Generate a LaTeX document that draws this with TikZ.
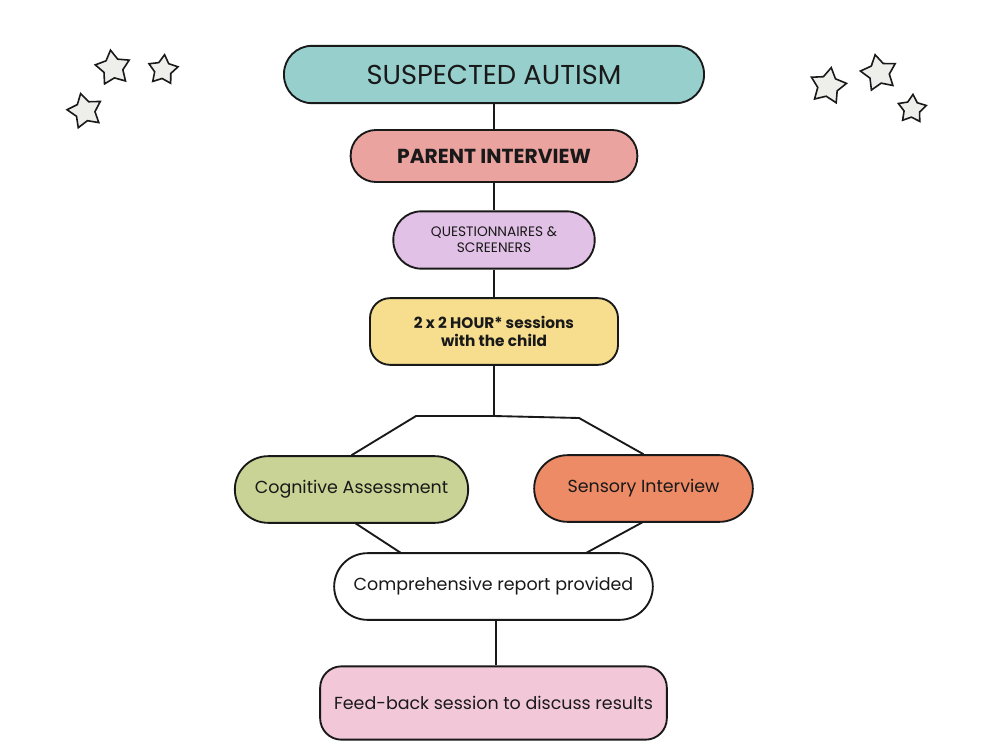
\documentclass[tikz,border=0pt]{standalone}
\usepackage{fontspec}
\setmainfont{Poppins}
\usetikzlibrary{shapes.geometric, positioning, calc}
\definecolor{sustealc}  {RGB}{151, 207, 205}
\definecolor{suspink}   {RGB}{235, 163, 160}
\definecolor{suslilac}  {RGB}{226, 193, 230}
\definecolor{susyellow} {RGB}{246, 222, 142}
\definecolor{susgreen}  {RGB}{201, 211, 150}
\definecolor{susorange} {RGB}{238, 139, 103}
\definecolor{susrose}   {RGB}{242, 200, 217}
\definecolor{susstar}   {RGB}{238, 238, 234}
\definecolor{susdark}   {RGB}{ 25,  25,  25}
\begin{document}
\begin{tikzpicture}[x=0.75pt, y=-0.75pt,
		pill/.style={draw=susdark, line width=1.4pt, rounded corners=#1, align=center, inner sep=0pt, text=susdark},
		pill/.default=21pt,
		link/.style={draw=susdark, line width=1.4pt},
		starry/.style={star, star points=5, star point ratio=1.8, draw=susdark, fill=susstar, line width=1.2pt, inner sep=0pt}]
	\useasboundingbox (0,0) rectangle (1000,750);
	\fill[white] (0,0) rectangle (1000,750);
	% stars
	\node[starry, minimum size=27pt, rotate=8]  (s1) at (113,68) {};
	\node[starry, minimum size=23pt, rotate=-6] (s2) at (163,70) {};
	\node[starry, minimum size=27pt, rotate=14] (s3) at (85,111) {};
	\node[starry, minimum size=28pt, rotate=-10] (s4) at (828,86) {};
	\node[starry, minimum size=28pt, rotate=12] (s5) at (879,73) {};
	\node[starry, minimum size=22pt, rotate=-4] (s6) at (912,109) {};
	% boxes
	\node[pill, fill=sustealc, minimum width=315pt, minimum height=43pt, font=\fontsize{20.5}{24}\selectfont] (autism) at (494,74.5) {SUSPECTED AUTISM};
	\node[pill=19pt, fill=suspink, minimum width=215pt, minimum height=39pt, font=\fontsize{15.2}{18}\selectfont\bfseries] (parent) at (494,156) {PARENT INTERVIEW};
	\node[pill=21pt, fill=suslilac, minimum width=151pt, minimum height=43pt, font=\fontsize{10.3}{12}\selectfont] (quest) at (494,240) {QUESTIONNAIRES \&\\ SCREENERS};
	\node[pill=15pt, fill=susyellow, minimum width=186pt, minimum height=50pt, font=\fontsize{11.5}{13.5}\selectfont\bfseries] (sessions) at (494,331.5) {2 x 2 HOUR* sessions\\ with the child};
	\node[pill=25pt, fill=susgreen, minimum width=175pt, minimum height=50pt, font=\fontsize{13.1}{15}\selectfont] (cog) at (351.5,489.5) {Cognitive Assessment};
	\node[pill=25pt, fill=susorange, minimum width=164pt, minimum height=50pt, font=\fontsize{13.1}{15}\selectfont] (sensory) at (643.5,488.5) {Sensory Interview};
	\node[pill=25pt, fill=white, minimum width=239pt, minimum height=50pt, font=\fontsize{13.1}{15}\selectfont] (report) at (493.5,586.5) {Comprehensive report provided};
	\node[pill=16pt, fill=susrose, minimum width=260pt, minimum height=55pt, font=\fontsize{13.1}{15}\selectfont] (feedback) at (493.5,703) {Feed-back session to discuss results};
	% junctions
	\coordinate (split)  at (494,416);
	\coordinate (splitL) at (416,416);
	\coordinate (splitR) at (579,418);
	\coordinate (joinL)  at (401,553);
	\coordinate (joinR)  at (586,553);
	\coordinate (cogout) at (355,523);
	\coordinate (senout) at (643,522);
	% links
	\draw[link] (autism) -- (parent);
	\draw[link] (parent) -- (quest);
	\draw[link] (quest) -- (sessions);
	\draw[link] (sessions) -- (split) -- (splitL) -- (cog.north);
	\draw[link] (split) -- (splitR) -- (sensory.north);
	\draw[link] (cogout) -- (joinL);
	\draw[link] (senout) -- (joinR);
	\draw[link] (report.south -| 496,0) -- (feedback.north -| 496,0);
\end{tikzpicture}
\end{document}
